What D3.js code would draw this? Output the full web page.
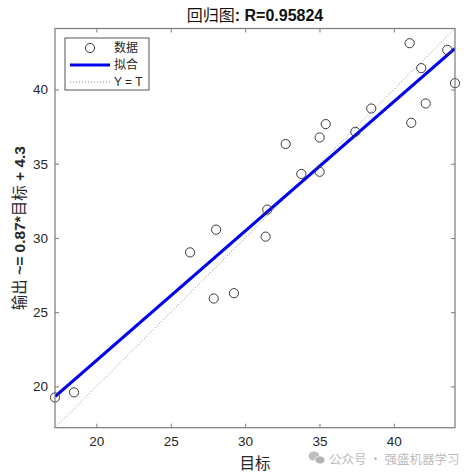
<!DOCTYPE html>
<html><head><meta charset="utf-8">
<script src="https://cdn.jsdelivr.net/npm/d3@7"></script>
<style>body{margin:0;background:#fff}</style></head>
<body>
<svg id="c" width="474" height="476"></svg>
<script>
// ---- data ----
const targets = [17.22, 18.50, 26.30, 28.05, 27.89, 29.25, 31.49, 31.38, 33.78, 35.01, 32.73,
                 35.01, 35.42, 37.41, 38.48, 41.17, 41.06, 41.84, 42.14, 43.59, 44.11];
const outputs = [19.26, 19.60, 29.03, 30.56, 25.92, 26.28, 31.91, 30.09, 34.31, 34.46, 36.33,
                 36.77, 37.67, 37.15, 38.72, 37.76, 43.12, 41.44, 39.06, 42.67, 40.43];
const axisLimits = [17.22, 44.11];
const xTickValues = [20, 25, 30, 35, 40];
const yTickValues = [20, 25, 30, 35, 40];
const fitSlope = 0.872;
const fitIntercept = 4.3;
const rValue = "0.95824";
const legendLabels = ["数据", "拟合", "Y = T"];
const titlePrefix = "回归图";
const xLabel = "目标";
const watermark = "公众号 · 强盛机器学习";

// ---- drawing ----
const LAT = "'Liberation Sans', Arial, sans-serif";
const CJK = "'Noto Sans CJK SC', sans-serif";
const svg = d3.select("#c");
const L = 55, R = 455, T = 28.5, B = 427.7;
const x = d3.scaleLinear().domain(axisLimits).range([L, R]);
const y = d3.scaleLinear().domain(axisLimits).range([B, T]);
const axisColor = "#7a7a7a";

svg.append("clipPath").attr("id", "clip").append("rect")
  .attr("x", L).attr("y", T).attr("width", R - L).attr("height", B - T);

// Y = T line
svg.append("line")
  .attr("x1", x(axisLimits[0])).attr("y1", y(axisLimits[0]))
  .attr("x2", x(axisLimits[1])).attr("y2", y(axisLimits[1]))
  .attr("stroke", "#8a8a8a").attr("stroke-width", 1).attr("stroke-dasharray", "1,2");

// fit line
const fit = t => fitSlope * t + fitIntercept;
svg.append("line").attr("clip-path", "url(#clip)")
  .attr("x1", x(axisLimits[0])).attr("y1", y(fit(axisLimits[0])))
  .attr("x2", x(axisLimits[1])).attr("y2", y(fit(axisLimits[1])))
  .attr("stroke", "#0000ee").attr("stroke-width", 3);

// data circles
svg.append("g").selectAll("circle").data(targets).join("circle")
  .attr("cx", d => x(d)).attr("cy", (d, i) => y(outputs[i])).attr("r", 4.6)
  .attr("fill", "none").attr("stroke", "#3a3a3a").attr("stroke-width", 1);

// axes
function styleAxis(g) {
  g.select(".domain").remove();
  g.selectAll(".tick line").attr("stroke", axisColor);
  g.selectAll(".tick text").attr("fill", "#262626").attr("font-family", LAT).attr("font-size", 13.5);
}
svg.append("g").attr("transform", `translate(0,${B})`)
  .call(d3.axisBottom(x).tickValues(xTickValues).tickSize(-4).tickPadding(9)).call(styleAxis);
svg.append("g").attr("transform", `translate(${L},0)`)
  .call(d3.axisLeft(y).tickValues(yTickValues).tickSize(-4).tickPadding(7)).call(styleAxis);
svg.append("g").attr("transform", `translate(0,${T})`)
  .call(d3.axisTop(x).tickValues(xTickValues).tickSize(-4).tickFormat("")).call(styleAxis);
svg.append("g").attr("transform", `translate(${R},0)`)
  .call(d3.axisRight(y).tickValues(yTickValues).tickSize(-4).tickFormat("")).call(styleAxis);
svg.append("rect").attr("x", L).attr("y", T).attr("width", R - L).attr("height", B - T)
  .attr("fill", "none").attr("stroke", axisColor).attr("stroke-width", 1.2);

// title
const title = svg.append("text").attr("x", (L + R) / 2).attr("y", 21)
  .attr("text-anchor", "middle").attr("font-size", 16).attr("fill", "#111");
title.append("tspan").attr("font-family", CJK).attr("font-weight", 400).text(titlePrefix);
title.append("tspan").attr("font-family", LAT).attr("font-weight", 700).text(": R=" + rValue);

// x label
svg.append("text").attr("x", (L + R) / 2).attr("y", 469).attr("text-anchor", "middle")
  .attr("font-family", CJK).attr("font-size", 15.5).attr("fill", "#262626").text(xLabel);

// y label
const yl = svg.append("text").attr("transform", `translate(25,${(T + B) / 2}) rotate(-90)`)
  .attr("text-anchor", "middle").attr("font-size", 15.5).attr("fill", "#262626");
yl.append("tspan").attr("font-family", CJK).text("输出");
yl.append("tspan").attr("font-family", LAT).attr("font-weight", 700).text(" ~= " + fitSlope.toFixed(2) + "*");
yl.append("tspan").attr("font-family", CJK).text("目标");
yl.append("tspan").attr("font-family", LAT).attr("font-weight", 700).text(" + " + fitIntercept.toFixed(1));

// legend
const lg = svg.append("g");
lg.append("rect").attr("x", 65).attr("y", 38).attr("width", 84).attr("height", 52)
  .attr("fill", "#fff").attr("stroke", "#555").attr("stroke-width", 1);
const rowY = [48, 65, 82];
lg.append("circle").attr("cx", 90).attr("cy", rowY[0]).attr("r", 4.6)
  .attr("fill", "none").attr("stroke", "#3a3a3a");
lg.append("line").attr("x1", 70).attr("x2", 110).attr("y1", rowY[1]).attr("y2", rowY[1])
  .attr("stroke", "#0000ee").attr("stroke-width", 3);
lg.append("line").attr("x1", 70).attr("x2", 110).attr("y1", rowY[2]).attr("y2", rowY[2])
  .attr("stroke", "#8a8a8a").attr("stroke-width", 1).attr("stroke-dasharray", "1,2");
lg.selectAll("text.l").data(legendLabels).join("text").attr("class", "l")
  .attr("x", 114).attr("y", (d, i) => rowY[i] + 4.3)
  .attr("font-family", (d, i) => i === 2 ? LAT : CJK).attr("font-size", 12)
  .attr("fill", "#262626").text(d => d);

// watermark
const wm = svg.append("g").attr("opacity", 0.85);
wm.append("ellipse").attr("cx", 314).attr("cy", 456).attr("rx", 5.5).attr("ry", 4.5).attr("fill", "#b5b5b5");
wm.append("ellipse").attr("cx", 320).attr("cy", 460).attr("rx", 5).attr("ry", 4).attr("fill", "#a8a8a8")
  .attr("stroke", "#fff").attr("stroke-width", 0.8);
wm.append("text").attr("x", 329).attr("y", 463.5).attr("font-family", CJK).attr("font-size", 12.5)
  .attr("fill", "#b0b0b0").text(watermark);
</script>
</body></html>
